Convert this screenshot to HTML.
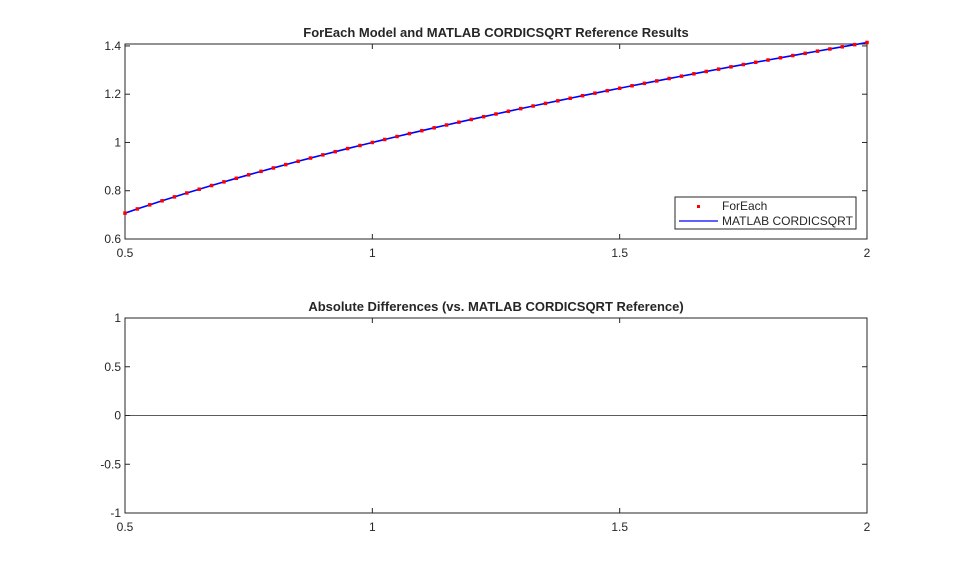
<!DOCTYPE html>
<html><head><meta charset="utf-8"><style>
body{margin:0;background:#fff;}
svg{display:block;font-family:"Liberation Sans",Arial,sans-serif;}
</style></head><body>
<svg id="c" width="959" height="577">
<rect width="959" height="577" fill="#fff"/>
</svg>
<script>
const xVals=[0.5,0.525,0.55,0.575,0.6,0.625,0.65,0.675,0.7,0.725,0.75,0.775,0.8,0.825,0.85,0.875,0.9,0.925,0.95,0.975,1.0,1.025,1.05,1.075,1.1,1.125,1.15,1.175,1.2,1.225,1.25,1.275,1.3,1.325,1.35,1.375,1.4,1.425,1.45,1.475,1.5,1.525,1.55,1.575,1.6,1.625,1.65,1.675,1.7,1.725,1.75,1.775,1.8,1.825,1.85,1.875,1.9,1.925,1.95,1.975,2.0];
const forEachVals=[0.7071,0.7246,0.7416,0.7583,0.7746,0.7906,0.8062,0.8216,0.8367,0.8515,0.8660,0.8803,0.8944,0.9083,0.9220,0.9354,0.9487,0.9618,0.9747,0.9874,1.0,1.0124,1.0247,1.0368,1.0488,1.0607,1.0724,1.0840,1.0954,1.1068,1.1180,1.1292,1.1402,1.1511,1.1619,1.1726,1.1832,1.1937,1.2042,1.2145,1.2247,1.2349,1.2450,1.2550,1.2649,1.2748,1.2845,1.2942,1.3038,1.3134,1.3229,1.3323,1.3416,1.3509,1.3601,1.3693,1.3784,1.3874,1.3964,1.4053,1.4142];
const refVals=forEachVals.slice();
const diffVals=[0,0,0,0,0,0,0,0,0,0,0,0,0,0,0,0,0,0,0,0,0,0,0,0,0,0,0,0,0,0,0,0,0,0,0,0,0,0,0,0,0,0,0,0,0,0,0,0,0,0,0,0,0,0,0,0,0,0,0,0,0];
const xTicks=[0.5,1,1.5,2];
const xTickLabels=["0.5","1","1.5","2"];
const yTicksTop=[0.6,0.8,1,1.2,1.4];
const yTickLabelsTop=["0.6","0.8","1","1.2","1.4"];
const yTicksBot=[-1,-0.5,0,0.5,1];
const yTickLabelsBot=["-1","-0.5","0","0.5","1"];

const NS="http://www.w3.org/2000/svg";
const svg=document.getElementById('c');
function el(t,a,p){const e=document.createElementNS(NS,t);for(const k in a)e.setAttribute(k,a[k]);(p||svg).appendChild(e);return e;}
const L=125,R=867;
const sx=v=>L+(v-0.5)/(2-0.5)*(R-L);

function axes(name,top,bot,y0,y1,yt,ytl,title){
  const g=el('g',{});
  
  
  const sy=v=>bot-(v-y0)/(y1-y0)*(bot-top);
  xTicks.forEach((t,i)=>{
    const x=sx(t);
    el('line',{x1:x,x2:x,y1:bot,y2:bot-5,stroke:'#262626'},g);
    el('line',{x1:x,x2:x,y1:top,y2:top+5,stroke:'#262626'},g);
    const tx=el('text',{x:x,y:bot+18,'font-size':12,'text-anchor':'middle',fill:'#262626'},g);
    tx.textContent=xTickLabels[i];
    
    
  });
  yt.forEach((t,i)=>{
    const y=sy(t);
    el('line',{x1:L,x2:L+5,y1:y,y2:y,stroke:'#262626'},g);
    el('line',{x1:R,x2:R-5,y1:y,y2:y,stroke:'#262626'},g);
    const tx=el('text',{x:L-4,y:y+4,'font-size':12,'text-anchor':'end',fill:'#262626'},g);
    tx.textContent=ytl[i];
    
    
  });
  el('rect',{x:L,y:top,width:R-L,height:bot-top,fill:'none',stroke:'#262626'},g);
  const tt=el('text',{x:(L+R)/2,y:top-7,'font-size':13,'font-weight':'bold','text-anchor':'middle',fill:'#262626'},g);
  tt.textContent=title;
  
  
  return sy;
}

const syT=axes('top-axes',44,239,0.6,1.408,yTicksTop,yTickLabelsTop,'ForEach Model and MATLAB CORDICSQRT Reference Results');
const line=el('polyline',{points:xVals.map((x,i)=>sx(x)+','+syT(refVals[i])).join(' '),fill:'none',stroke:'#0000ff','stroke-width':1.6});


xVals.forEach((x,i)=>{
  const m=el('rect',{x:sx(x)-1.75,y:syT(forEachVals[i])-1.75,width:3.5,height:3.5,fill:'#ff0000'});
  
  
});

const syB=axes('bottom-axes',318,513,-1,1,yTicksBot,yTickLabelsBot,'Absolute Differences (vs. MATLAB CORDICSQRT Reference)');
const dl=el('polyline',{points:xVals.map((x,i)=>sx(x)+','+syB(diffVals[i])).join(' '),fill:'none',stroke:'#262626','stroke-width':0.8});



const lg=el('g',{});


el('rect',{x:675,y:197,width:181,height:32,fill:'#fff',stroke:'#262626'},lg);
el('rect',{x:697,y:205,width:3,height:3,fill:'#ff0000'},lg);
const t1=el('text',{x:722,y:210,'font-size':12,fill:'#262626'},lg);t1.textContent='ForEach';


el('line',{x1:679,x2:718,y1:221,y2:221,stroke:'#0000ff','stroke-width':1.2},lg);
const t2=el('text',{x:722,y:225,'font-size':12,fill:'#262626'},lg);t2.textContent='MATLAB CORDICSQRT';


</script>
</body></html>
